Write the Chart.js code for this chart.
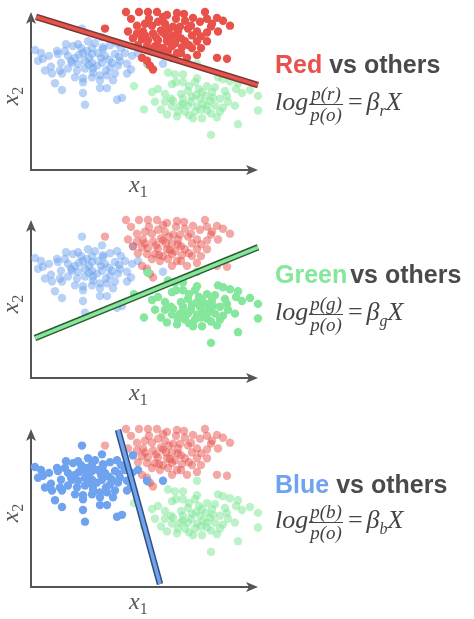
<!DOCTYPE html>
<html>
<head>
<meta charset="utf-8">
<script src="https://cdn.jsdelivr.net/npm/chart.js@4.4.1/dist/chart.umd.min.js"></script>
<style>
  body { margin: 0; background: #fff; width: 474px; height: 619px; position: relative; overflow: hidden; }
  canvas { position: absolute; left: 0; }
  .ttl { position: absolute; left: 275px; font: bold 25px "Liberation Sans", Arial, sans-serif; color: #4a4a4a; white-space: nowrap; line-height: 25px; }
  .math { position: absolute; left: 275px; font: italic 26px "Liberation Serif", serif; color: #444; white-space: nowrap; line-height: 26px; }
  .math .up { font-style: normal; margin: 0 4px 0 3px; }
  .math sub { font-size: 16px; vertical-align: -6px; }
  .frac { display: inline-block; vertical-align: middle; text-align: center; font-size: 19px; line-height: 20px; margin: 0 2px 0 1px; }
  .frac span { display: block; padding: 0 1px; }
  .frac .num { border-bottom: 1px solid #444; }
  .xl { position: absolute; font: italic 24px "Liberation Serif", serif; color: #555; white-space: nowrap; line-height: 24px; }
  .xl sub { font-style: normal; font-size: 16px; vertical-align: -5px; }
  .yl { transform: rotate(-90deg); transform-origin: center center; }
</style>
</head>
<body>
<canvas id="c1" width="474" height="200" style="top:0px"></canvas>
<canvas id="c2" width="474" height="200" style="top:208px"></canvas>
<canvas id="c3" width="474" height="200" style="top:417px"></canvas>

<div class="ttl" style="top:52px"><span style="color:#e8524b">Red</span> vs others</div>
<div class="math" style="top:84px">log<span class="frac"><span class="num">p(r)</span><span>p(o)</span></span><span class="up">=</span>β<sub>r</sub>X</div>

<div class="ttl" style="top:262px"><span style="color:#84e79b">Green</span><span style="margin-left:-4px"> vs others</span></div>
<div class="math" style="top:294px">log<span class="frac"><span class="num">p(g)</span><span>p(o)</span></span><span class="up">=</span>β<sub>g</sub>X</div>

<div class="ttl" style="top:472px"><span style="color:#6fa3ef">Blue</span> vs others</div>
<div class="math" style="top:502px">log<span class="frac"><span class="num">p(b)</span><span>p(o)</span></span><span class="up">=</span>β<sub>b</sub>X</div>

<div class="xl" style="left:129px;top:172px">x<sub>1</sub></div>
<div class="xl" style="left:129px;top:380px">x<sub>1</sub></div>
<div class="xl" style="left:129px;top:589px">x<sub>1</sub></div>
<div class="xl yl" style="left:5px;top:80px">x<sub>2</sub></div>
<div class="xl yl" style="left:5px;top:288px">x<sub>2</sub></div>
<div class="xl yl" style="left:5px;top:497px">x<sub>2</sub></div>

<script>
// point clouds (same in every panel), in axis units
const redX = [95,108,117,126,136,146,174,186,192,199,176,169,162,154,106,114,121,127,134,142,149,157,166,176,187,97,106,112,122,132,141,147,161,111,117,127,136,144,154,166,176,116,124,132,141,151,161,107,121,129,137,146,156,166,186,196,111,116,122,119,141,74,130,138,125,150,158,170,180,102,145,118,100,132,153,181,128,135,147,170,160,114,139,150];
const redY = [162,162,162,162,159,161,162,156,153,148,155,152,156,153,148,150,148,152,150,147,147,145,142,141,142,142,140,142,140,141,138,137,138,134,133,133,132,130,132,132,132,127,127,125,127,126,125,128,122,120,122,120,115,118,115,114,115,112,103,107,115,145,143,145,136,135,128,125,147,135,155,155,155,157,160,150,126,138,142,137,148,138,131,120];

const greenX = [137,144,152,166,187,192,199,207,121,127,141,152,164,176,184,194,211,219,227,134,157,171,181,124,134,142,152,161,169,179,189,197,204,141,149,157,166,176,184,113,136,147,154,164,176,189,227,146,162,171,186,207,180,103,160,170,150,175,158,182,117,166,145,158,168,196,205,130,172,192,152,165,180,140];
const greenY = [100,98,98,94,95,93,91,89,80,83,88,90,90,86,85,81,79,82,76,78,81,80,80,70,70,71,73,75,73,71,73,70,66,65,66,66,65,66,66,62,57,60,60,60,61,60,61,55,53,53,54,47,36,86,70,62,78,76,56,74,108,109,90,86,83,76,83,62,68,64,68,77,58,73];

const blueX = [51,71,4,7,12,26,27,35,47,57,61,72,79,86,34,37,44,52,61,67,74,84,94,14,21,29,41,47,54,61,71,81,89,101,107,37,46,54,62,79,87,96,31,44,52,61,69,76,84,96,24,31,52,69,69,76,52,86,91,54,116,102,132,40,58,66,78,50,64,90,18,82,100,42,56,70,30,48,62,75,88,20,58,72,10];
const blueY = [145,136,123,112,114,122,119,129,129,132,125,126,128,130,122,117,115,120,119,120,117,119,120,102,99,102,110,109,112,110,110,110,112,117,120,104,102,104,104,105,107,109,99,95,94,95,97,97,99,99,89,82,90,92,84,84,79,72,74,67,109,135,109,112,115,107,113,125,130,125,117,92,103,127,122,115,110,118,100,102,116,106,108,124,120];

// decision boundaries (two end points each)
const redLineX = [5, 227];
const redLineY = [157, 87];
const greenLineX = [4, 227];
const greenLineY = [41, 134];
const blueLineX = [87, 129];
const blueLineY = [161, 3];

const axisTop = 162;
const axisRight = 227;

const solid = { red: '#e8524b', green: '#84e79b', blue: '#6fa3ef' };
const faded = { red: 'rgba(232,82,75,0.5)', green: 'rgba(132,231,155,0.55)', blue: 'rgba(111,163,239,0.5)' };

function pts(xs, ys) {
  return xs.map((x, i) => ({ x: x, y: ys[i] }));
}

const axisArrows = {
  id: 'axisArrows',
  beforeDatasetsDraw(chart) {
    const { ctx, chartArea, scales } = chart;
    const x0 = chartArea.left, y0 = chartArea.bottom;
    const yTip = scales.y.getPixelForValue(axisTop);
    const xTip = scales.x.getPixelForValue(axisRight);
    ctx.save();
    ctx.strokeStyle = '#555';
    ctx.fillStyle = '#555';
    ctx.lineWidth = 2;
    ctx.beginPath();
    ctx.moveTo(x0, yTip + 6);
    ctx.lineTo(x0, y0);
    ctx.lineTo(xTip - 6, y0);
    ctx.stroke();
    ctx.beginPath();
    ctx.moveTo(x0, yTip);
    ctx.lineTo(x0 - 5, yTip + 12);
    ctx.lineTo(x0, yTip + 9);
    ctx.lineTo(x0 + 5, yTip + 12);
    ctx.closePath();
    ctx.fill();
    ctx.beginPath();
    ctx.moveTo(xTip, y0);
    ctx.lineTo(xTip - 12, y0 - 5);
    ctx.lineTo(xTip - 9, y0);
    ctx.lineTo(xTip - 12, y0 + 5);
    ctx.closePath();
    ctx.fill();
    ctx.restore();
  }
};

function makePanel(id, active, lineX, lineY, edge) {
  const clouds = { red: pts(redX, redY), green: pts(greenX, greenY), blue: pts(blueX, blueY) };
  const sets = ['red', 'green', 'blue'].map(name => ({
    type: 'scatter',
    data: clouds[name],
    backgroundColor: name === active ? solid[name] : faded[name],
    borderWidth: 0,
    pointRadius: 4.2,
    pointHoverRadius: 4.2,
    clip: false,
    order: name === active ? 2 : 3
  }));
  const line = pts(lineX, lineY);
  sets.push({
    type: 'line', data: line, borderColor: edge, borderWidth: 6.5,
    pointRadius: 0, borderCapStyle: 'butt', clip: false, order: 1
  });
  sets.push({
    type: 'line', data: line, borderColor: solid[active], borderWidth: 3.5,
    pointRadius: 0, borderCapStyle: 'butt', clip: false, order: 0
  });
  new Chart(document.getElementById(id), {
    type: 'scatter',
    data: { datasets: sets },
    options: {
      responsive: false,
      animation: false,
      devicePixelRatio: 1,
      layout: { padding: { left: 31, right: 203, top: 0, bottom: 30 } },
      plugins: { legend: { display: false }, tooltip: { enabled: false } },
      scales: {
        x: { type: 'linear', display: false, min: 0, max: 240 },
        y: { type: 'linear', display: false, min: 0, max: 170 }
      }
    },
    plugins: [axisArrows]
  });
}

makePanel('c1', 'red', redLineX, redLineY, '#7a3b38');
makePanel('c2', 'green', greenLineX, greenLineY, '#2f5a34');
makePanel('c3', 'blue', blueLineX, blueLineY, '#33507c');
</script>
</body>
</html>
